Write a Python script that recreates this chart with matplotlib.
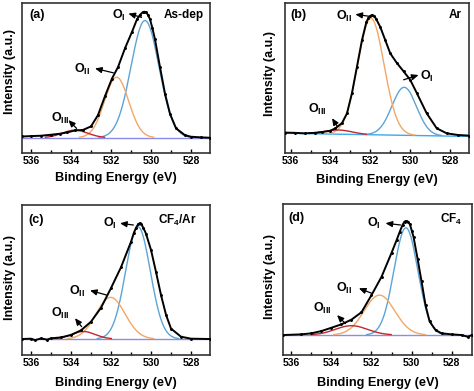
import numpy as np
import matplotlib
matplotlib.use("Agg")
import matplotlib.pyplot as plt

plt.rcParams['font.family'] = ['Liberation Sans', 'DejaVu Sans']
plt.rcParams['font.weight'] = 'bold'
plt.rcParams['mathtext.fontset'] = 'custom'
plt.rcParams['mathtext.rm'] = 'Liberation Sans:bold'
plt.rcParams['mathtext.bf'] = 'Liberation Sans:bold'
plt.rcParams['mathtext.it'] = 'Liberation Sans:bold'

# ---------------- data ----------------
panel_tags = ['(a)', '(b)', '(c)', '(d)']
conditions = ['As-dep', 'Ar', r'CF$_\mathbf{4}$/Ar', r'CF$_\mathbf{4}$']
peak_names = ['O$_\\mathbf{I}$', 'O$_\\mathbf{II}$', 'O$_\\mathbf{III}$']

# measured envelope (binding energy eV, normalised intensity)
a_energy = [536.45, 536.0, 535.5, 535.0, 534.55, 534.2, 533.8, 533.4, 533.0, 532.65,
            532.3, 531.95, 531.65, 531.3, 530.95, 530.7, 530.55, 530.42, 530.33, 530.25,
            530.15, 530.05, 529.93, 529.8, 529.55, 529.3, 529.05, 528.75, 528.3, 528.0,
            527.5, 527.05]
a_intens = [0.010, 0.013, 0.016, 0.024, 0.032, 0.042, 0.058, 0.062, 0.090, 0.18,
            0.33, 0.47, 0.56, 0.71, 0.84, 0.94, 0.975, 0.995, 1.00, 0.995,
            0.975, 0.94, 0.87, 0.78, 0.56, 0.35, 0.19, 0.075, 0.02, 0.008,
            0.003, 0.0]

b_energy = [536.28, 535.8, 535.3, 534.8, 534.4, 534.0, 533.75, 533.42, 533.17, 532.92,
            532.67, 532.42, 532.2, 532.1, 532.0, 531.9, 531.8, 531.7, 531.5, 531.25,
            531.0, 530.67, 530.33, 530.0, 529.67, 529.17, 528.67, 528.17, 527.6, 527.05]
b_intens = [0.020, 0.018, 0.014, 0.018, 0.025, 0.036, 0.056, 0.10, 0.18, 0.35,
            0.57, 0.79, 0.94, 0.975, 0.993, 1.00, 0.99, 0.965, 0.90, 0.79,
            0.68, 0.60, 0.53, 0.46, 0.35, 0.18, 0.056, 0.014, 0.0, -0.005]

c_energy = [536.45, 536.0, 535.8, 535.5, 535.2, 535.0, 534.5, 534.0, 533.5, 533.0,
            532.5, 532.0, 531.5, 531.0, 530.85, 530.75, 530.65, 530.57, 530.48, 530.38,
            530.25, 530.0, 529.75, 529.5, 529.25, 529.0, 528.5, 528.0, 527.05]
c_intens = [0.0, 0.003, -0.01, 0.005, -0.005, 0.006, 0.014, 0.035, 0.075, 0.15,
            0.27, 0.44, 0.62, 0.84, 0.92, 0.96, 0.99, 1.00, 0.99, 0.96,
            0.91, 0.77, 0.58, 0.38, 0.21, 0.09, 0.02, 0.003, 0.0]

d_energy = [536.4, 535.5, 535.0, 534.5, 534.0, 533.5, 533.0, 532.5, 532.0, 531.5,
            531.0, 530.75, 530.6, 530.45, 530.35, 530.27, 530.18, 530.08, 529.98, 529.9,
            529.7, 529.5, 529.3, 529.1, 528.8, 528.5, 528.0, 527.5, 527.2, 526.98]
d_intens = [0.0, 0.006, 0.015, 0.035, 0.064, 0.094, 0.135, 0.20, 0.35, 0.51,
            0.72, 0.83, 0.90, 0.965, 0.995, 1.00, 0.995, 0.97, 0.91, 0.86,
            0.67, 0.47, 0.26, 0.12, 0.044, 0.015, 0.006, 0.0, -0.015, 0.0]

# fitted components: O_I, O_II, O_III  (centre eV, height, FWHM eV)
a_centres = [530.30, 531.72, 533.80]; a_heights = [0.93, 0.48, 0.06]; a_fwhm = [1.65, 1.42, 1.5]
b_centres = [530.30, 531.97, 533.60]; b_heights = [0.40, 0.97, 0.035]; b_fwhm = [1.45, 1.55, 1.6]
c_centres = [530.65, 532.02, 533.38]; c_heights = [0.97, 0.36, 0.065]; c_fwhm = [1.45, 1.7, 1.4]
d_centres = [530.28, 531.60, 533.00]; d_heights = [0.94, 0.35, 0.082]; d_fwhm = [1.4, 1.8, 1.9]

# linear background (value at 536.5 eV, value at 527 eV)
a_bg = [0.0, 0.0]
b_bg = [0.015, -0.012]
c_bg = [0.0, 0.0]
d_bg = [0.0, 0.0]

energies = [a_energy, b_energy, c_energy, d_energy]
intens = [a_intens, b_intens, c_intens, d_intens]
centres = [a_centres, b_centres, c_centres, d_centres]
heights = [a_heights, b_heights, c_heights, d_heights]
fwhms = [a_fwhm, b_fwhm, c_fwhm, d_fwhm]
bgs = [a_bg, b_bg, c_bg, d_bg]

# ---------------- layout ----------------
W, H = 474, 391
boxes = [(22, 210, 3, 153), (285, 469, 3, 153), (22, 210, 205, 355), (283, 472, 204, 355)]
xlims = [(536.45, 527.05), (536.28, 527.05), (536.45, 527.05), (536.42, 526.98)]
ylims = [(-0.121, 1.069), (-0.15, 1.10), (-0.138, 1.158), (-0.175, 1.149)]
ylab_pos = [(-0.064, 0.54), (-0.08, 0.53), (-0.064, 0.52), (-0.069, 0.52)]
xlab_y = [-0.167, -0.18, -0.187, -0.187]
tag_pos = [(0.04, 0.92), (0.03, 0.92), (0.035, 0.90), (0.03, 0.91)]
cond_pos = [(0.965, 0.92), (0.96, 0.92), (0.93, 0.90), (0.95, 0.90)]
# per peak: text centre, arrow tail (at curve), arrow head (near label)
annos = [
    [((531.63, 0.97), (530.47, 0.955), (531.13, 0.985)),
     ((533.47, 0.54), (531.88, 0.515), (532.8, 0.55)),
     ((534.55, 0.15), (533.72, 0.074), (534.13, 0.14))],
    [((529.17, 0.49), (530.33, 0.46), (529.58, 0.50)),
     ((533.33, 0.99), (532.08, 0.99), (532.75, 1.005)),
     ((534.67, 0.21), (533.67, 0.075), (533.92, 0.14))],
    [((532.05, 1.00), (530.88, 0.985), (531.55, 1.0)),
     ((533.72, 0.41), (532.22, 0.38), (533.05, 0.42)),
     ((534.55, 0.22), (533.47, 0.107), (533.8, 0.18))],
    [((531.88, 0.98), (530.55, 0.965), (531.3, 0.98)),
     ((533.38, 0.41), (531.97, 0.365), (532.63, 0.41)),
     ((534.47, 0.23), (533.3, 0.10), (533.72, 0.175))],
]
comp_colors = ['#5ea3d6', '#f2a766', '#c0282d']
bg_colors = ['#8c8ce8', '#3ea7ef', '#8c8ce8', '#8c8ce8']

fig = plt.figure(figsize=(W / 100, H / 100), dpi=100)

for i in range(4):
    l, r, t, b = boxes[i]
    ax = fig.add_axes([l / W, 1 - b / H, (r - l) / W, (b - t) / H])
    x = np.linspace(527.0, 536.5, 800)
    bg = np.interp(x, [527.0, 536.5], [bgs[i][1], bgs[i][0]])
    ax.plot(x, bg, color=bg_colors[i], lw=1.0, zorder=2)
    for k in range(3):
        sig = fwhms[i][k] / 2.3548
        g = heights[i][k] * np.exp(-0.5 * ((x - centres[i][k]) / sig) ** 2)
        g = np.where(g > 0.004, g, np.nan)
        ax.plot(x, g + bg, color=comp_colors[k], lw=1.0, zorder=3)
    ax.plot(energies[i], intens[i], color='black', lw=1.4, marker='o', ms=1.1,
            zorder=4)
    ax.set_xlim(*xlims[i])
    ax.set_ylim(*ylims[i])
    ax.set_xticks([536, 534, 532, 530, 528])
    ax.set_xticks([535, 533, 531, 529], minor=True)
    ax.set_yticks([])
    ax.tick_params(axis='x', which='major', direction='in', length=3, width=1,
                   labelsize=7.5, pad=2.5, colors='black')
    ax.tick_params(axis='x', which='minor', direction='in', length=2, width=1)
    for s in ax.spines.values():
        s.set_linewidth(1.2)
        s.set_color('#333333')
    ax.text(0.5, xlab_y[i], 'Binding Energy (eV)', transform=ax.transAxes,
            ha='center', va='center', fontsize=9.2, fontweight='bold')
    ax.text(ylab_pos[i][0], ylab_pos[i][1], 'Intensity (a.u.)', transform=ax.transAxes,
            ha='center', va='center', rotation=90, fontsize=9, fontweight='bold')
    ax.text(tag_pos[i][0], tag_pos[i][1], panel_tags[i], transform=ax.transAxes,
            ha='left', va='center', fontsize=9, fontweight='bold')
    ax.text(cond_pos[i][0], cond_pos[i][1], conditions[i], transform=ax.transAxes,
            ha='right', va='center', fontsize=8.5, fontweight='bold')
    for k in range(3):
        txt, tail, head = annos[i][k]
        ax.text(txt[0], txt[1], peak_names[k], ha='center', va='center',
                fontsize=9, fontweight='bold', zorder=6)
        ax.annotate('', xy=head, xytext=tail,
                    arrowprops=dict(arrowstyle='-|>,head_length=0.5,head_width=0.22',
                                    color='black', lw=0.9, shrinkA=0, shrinkB=0,
                                    mutation_scale=8), zorder=6)

fig.savefig('out.png', dpi=100)
